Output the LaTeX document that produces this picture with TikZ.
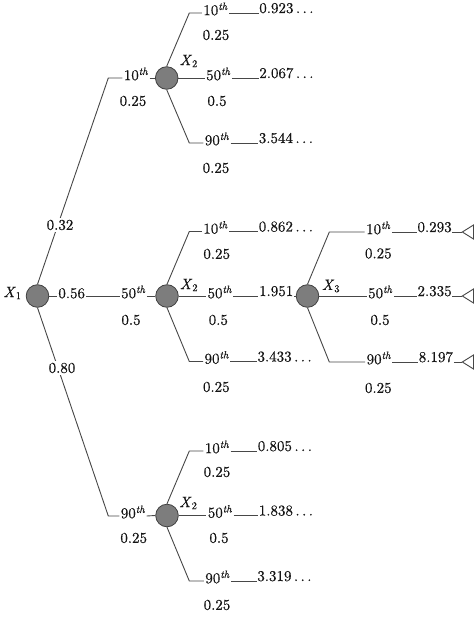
\documentclass[tikz,border=0pt]{standalone}
\usepackage{fontspec}
\setmainfont{lmroman10}[Extension=.otf, UprightFont=*-regular, ItalicFont=*-italic, FakeBold=0.35]
\definecolor{ln}{HTML}{474747}
\definecolor{cf}{HTML}{7D7D7D}
\definecolor{cd}{HTML}{404040}
\definecolor{tx}{HTML}{151515}
\newcommand{\pct}[1]{#1\textsuperscript{\itshape th}}
\newcommand{\xv}[1]{\textit{X}\textsubscript{#1}}
\newcommand{\dts}{\,.\,.\,.}
\tikzset{
  every node/.style={font=\fontsize{15}{18}\selectfont, text=tx},
  conn/.style={draw=ln, line width=0.9pt},
  chance/.style={circle, fill=cf, draw=cd, line width=0.8pt, minimum size=22.6pt, inner sep=0pt},
  lbl/.style={anchor=mid, inner sep=1.2pt},
  val/.style={anchor=base west, inner sep=0.6pt},
  prob/.style={anchor=center, inner sep=0pt},
  onl/.style={fill=white, inner sep=1.5pt},
  vname/.style={inner sep=0pt},
  term/.style={draw=ln, line width=0.9pt, fill=white}
}
\begin{document}
\begin{tikzpicture}[x=1pt,y=-1pt]
\useasboundingbox (0,0) rectangle (474,617);

% ---- X1 ----
\node[chance] (c1) at (37.5,296) {};
\node[vname] (x1) at (12.5,293) {\xv{1}};
\coordinate (ka) at (108.3,78);
\coordinate (kb) at (108.3,516);
\node[lbl] (a10) at (136,78) {\pct{10}};
\node[lbl] (p56) at (71.7,296) {0.56};
\node[lbl] (a50) at (133.3,296) {\pct{50}};
\node[lbl] (a90) at (133,516) {\pct{90}};
\node[prob] at (133,101) {0.25};
\node[prob] at (131,320) {0.5};
\node[prob] at (133.7,538) {0.25};

% ---- X2 top ----
\node[chance] (c2a) at (166.7,78) {};
\node[vname] at (188.7,61) {\xv{2}};
\coordinate (ta1) at (189.3,13);
\coordinate (ta3) at (189.3,143);
\node[lbl] (la1) at (215.5,13) {\pct{10}};
\node[lbl] (la2) at (218.3,78) {\pct{50}};
\node[lbl] (la3) at (217,143) {\pct{90}};
\node[prob] at (216,35) {0.25};
\node[prob] at (217,101) {0.5};
\node[prob] at (216,168) {0.25};
\node[val] (va1) at (258.5,13) {0.923\dts};
\node[val] (va2) at (258.5,78) {2.067\dts};
\node[val] (va3) at (258,143) {3.544\dts};

% ---- X2 middle ----
\node[chance] (c2b) at (167,296) {};
\node[vname] at (189,285) {\xv{2}};
\coordinate (tb1) at (189.3,231.5);
\coordinate (tb3) at (189.3,361.5);
\node[lbl] (lb1) at (215.5,231.5) {\pct{10}};
\node[lbl] (lb2) at (219.7,296) {\pct{50}};
\node[lbl] (lb3) at (216.7,361.5) {\pct{90}};
\node[prob] at (216.7,254) {0.25};
\node[prob] at (218.3,320) {0.5};
\node[prob] at (216.3,387) {0.25};
\node[val] (vb1) at (258,231.5) {0.862\dts};
\node[val] (vb2) at (258.3,296) {1.951};
\node[val] (vb3) at (256.7,361.5) {3.433\dts};

% ---- X3 ----
\node[chance] (c3) at (307.5,296) {};
\node[vname] at (331,286) {\xv{3}};
\coordinate (td1) at (329.3,232);
\coordinate (td3) at (329.3,362);
\node[lbl] (ld1) at (378.3,232) {\pct{10}};
\node[lbl] (ld2) at (380.3,296) {\pct{50}};
\node[lbl] (ld3) at (378.8,362) {\pct{90}};
\node[prob] at (378.3,253.5) {0.25};
\node[prob] at (380,320) {0.5};
\node[prob] at (378.3,388) {0.25};
\node[val] (vd1) at (416.7,232) {0.293};
\node[val] (vd2) at (416.7,296) {2.335};
\node[val] (vd3) at (418,362) {8.197};
\coordinate (e1) at (462.3,232);
\coordinate (e2) at (462.3,296);
\coordinate (e3) at (462.3,362);

% ---- X2 bottom ----
\node[chance] (c2c) at (167,515.5) {};
\node[vname] at (188.3,503) {\xv{2}};
\coordinate (tc1) at (189.3,451);
\coordinate (tc3) at (189.3,581);
\node[lbl] (lc1) at (217,451) {\pct{10}};
\node[lbl] (lc2) at (220,515.5) {\pct{50}};
\node[lbl] (lc3) at (217.5,581) {\pct{90}};
\node[prob] at (217,472) {0.25};
\node[prob] at (219,538) {0.5};
\node[prob] at (217,605) {0.25};
\node[val] (vc1) at (257,451) {0.805\dts};
\node[val] (vc2) at (258,515.5) {1.838\dts};
\node[val] (vc3) at (256.5,581) {3.319\dts};

% ---- connectors ----
\draw[conn] (c1.north) -- (ka) -- (a10.mid west);
\draw[conn] (a10.mid east) -- (c2a.west);
\draw[conn] (c1.east) -- (p56.mid west);
\draw[conn] (p56.mid east) -- (a50.mid west);
\draw[conn] (a50.mid east) -- (c2b.west);
\draw[conn] (c1.south) -- (kb) -- (a90.mid west);
\draw[conn] (a90.mid east) -- (c2c.west);

\draw[conn] (c2a.north) -- (ta1) -- (la1.mid west);
\draw[conn] (c2a.east) -- (la2.mid west);
\draw[conn] (c2a.south) -- (ta3) -- (la3.mid west);
\draw[conn] (la1.mid east) -- (va1.base west);
\draw[conn] (la2.mid east) -- (va2.base west);
\draw[conn] (la3.mid east) -- (va3.base west);

\draw[conn] (c2b.north) -- (tb1) -- (lb1.mid west);
\draw[conn] (c2b.east) -- (lb2.mid west);
\draw[conn] (c2b.south) -- (tb3) -- (lb3.mid west);
\draw[conn] (lb1.mid east) -- (vb1.base west);
\draw[conn] (lb2.mid east) -- (vb2.base west);
\draw[conn] (lb3.mid east) -- (vb3.base west);
\draw[conn] (vb2.base east) -- (c3.west);

\draw[conn] (c3.north) -- (td1) -- (ld1.mid west);
\draw[conn] (c3.east) -- (ld2.mid west);
\draw[conn] (c3.south) -- (td3) -- (ld3.mid west);
\draw[conn] (ld1.mid east) -- (vd1.base west);
\draw[conn] (ld2.mid east) -- (vd2.base west);
\draw[conn] (ld3.mid east) -- (vd3.base west);
\draw[conn] (vd1.base east) -- (e1);
\draw[conn] (vd2.base east) -- (e2);
\draw[conn] (vd3.base east) -- (e3);
\draw[term] (e1) -- ++(11.2,-7) -- ++(0,14) -- cycle;
\draw[term] (e2) -- ++(11.2,-7) -- ++(0,14) -- cycle;
\draw[term] (e3) -- ++(11.2,-7) -- ++(0,14) -- cycle;

\draw[conn] (c2c.north) -- (tc1) -- (lc1.mid west);
\draw[conn] (c2c.east) -- (lc2.mid west);
\draw[conn] (c2c.south) -- (tc3) -- (lc3.mid west);
\draw[conn] (lc1.mid east) -- (vc1.base west);
\draw[conn] (lc2.mid east) -- (vc2.base west);
\draw[conn] (lc3.mid east) -- (vc3.base west);

% labels sitting on the X1 branches
\node[onl] (p32) at (60,225) {0.32};
\node[onl] (p80) at (62,368) {0.80};
\end{tikzpicture}
\end{document}
